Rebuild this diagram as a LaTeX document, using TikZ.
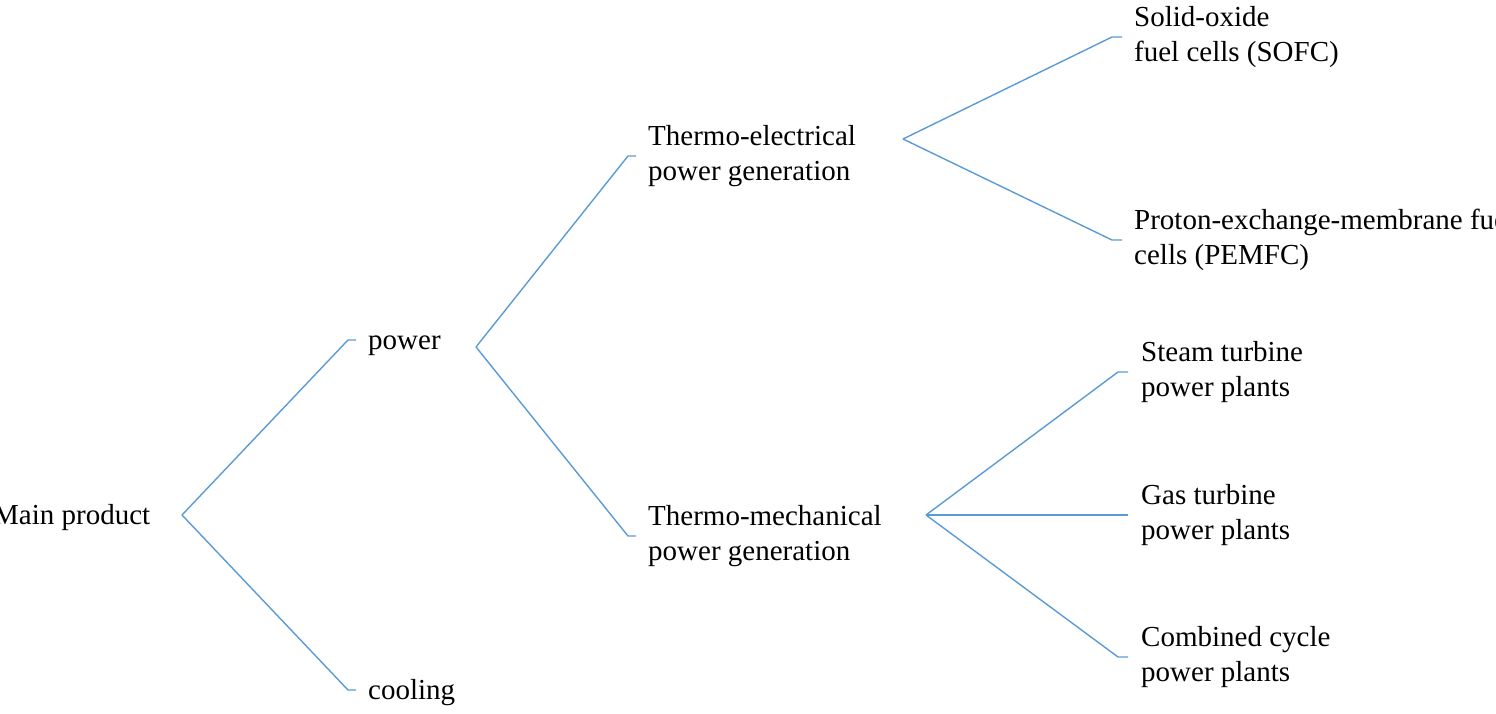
\documentclass[tikz,border=0pt]{standalone}
\usepackage{fontspec}
\setmainfont{Liberation Serif}
\definecolor{linkblue}{HTML}{5B9BD5}
\newcommand{\lnstrut}{\rule[-2.5pt]{0pt}{27pt}}
\newcommand{\tallstrut}{\rule[-2.5pt]{0pt}{33pt}}
\begin{document}
\begin{tikzpicture}[x=1pt,y=-1pt,
  lbl/.style={anchor=west,align=left,inner ysep=0pt,inner xsep=12pt,
    font=\fontsize{29}{35}\selectfont,
    execute at begin node=\lnstrut, execute at end node=\lnstrut},
  lblm/.style={lbl,execute at begin node=\tallstrut},
  lblw/.style={lblm,inner xsep=13pt},
  conn/.style={draw=linkblue,line width=1.4pt}]
\useasboundingbox (0,0) rectangle (1496,714);
\node[lbl,inner xsep=0pt] (main) at (-7,515) {Main product};
\node[lbl] (power) at (356,340) {power};
\node[lbl] (cooling) at (356,690) {cooling};
\node[lblm] (te) at (636,156) {Thermo-electrical\\power generation};
\node[lblm] (tm) at (636,536) {Thermo-mechanical\\power generation};
\node[lblm] (sofc) at (1122,37) {Solid-oxide\\fuel cells (SOFC)};
\node[lblm] (pemfc) at (1122,240) {Proton-exchange-membrane fuel\\cells (PEMFC)};
\node[lblw] (steam) at (1128,372) {Steam turbine\\power plants};
\node[lblw] (gas) at (1128,515) {Gas turbine\\power plants};
\node[lblw] (cc) at (1128,657) {Combined cycle\\power plants};
\coordinate (b1) at (182,515);
\coordinate (b2) at (476,347);
\coordinate (b3) at (903,139);
\coordinate (b4) at (926,515);
\draw[conn] (b1) -- ([xshift=-8pt]power.west) -- (power.west);
\draw[conn] (b1) -- ([xshift=-8pt]cooling.west) -- (cooling.west);
\draw[conn] (b2) -- ([xshift=-8pt]te.west) -- (te.west);
\draw[conn] (b2) -- ([xshift=-8pt]tm.west) -- (tm.west);
\draw[conn] (b3) -- ([xshift=-10pt]sofc.west) -- (sofc.west);
\draw[conn] (b3) -- ([xshift=-10pt]pemfc.west) -- (pemfc.west);
\draw[conn] (b4) -- ([xshift=-10pt]steam.west) -- (steam.west);
\draw[conn] (b4) -- (gas.west);
\draw[conn] (b4) -- ([xshift=-10pt]cc.west) -- (cc.west);
\end{tikzpicture}
\end{document}
